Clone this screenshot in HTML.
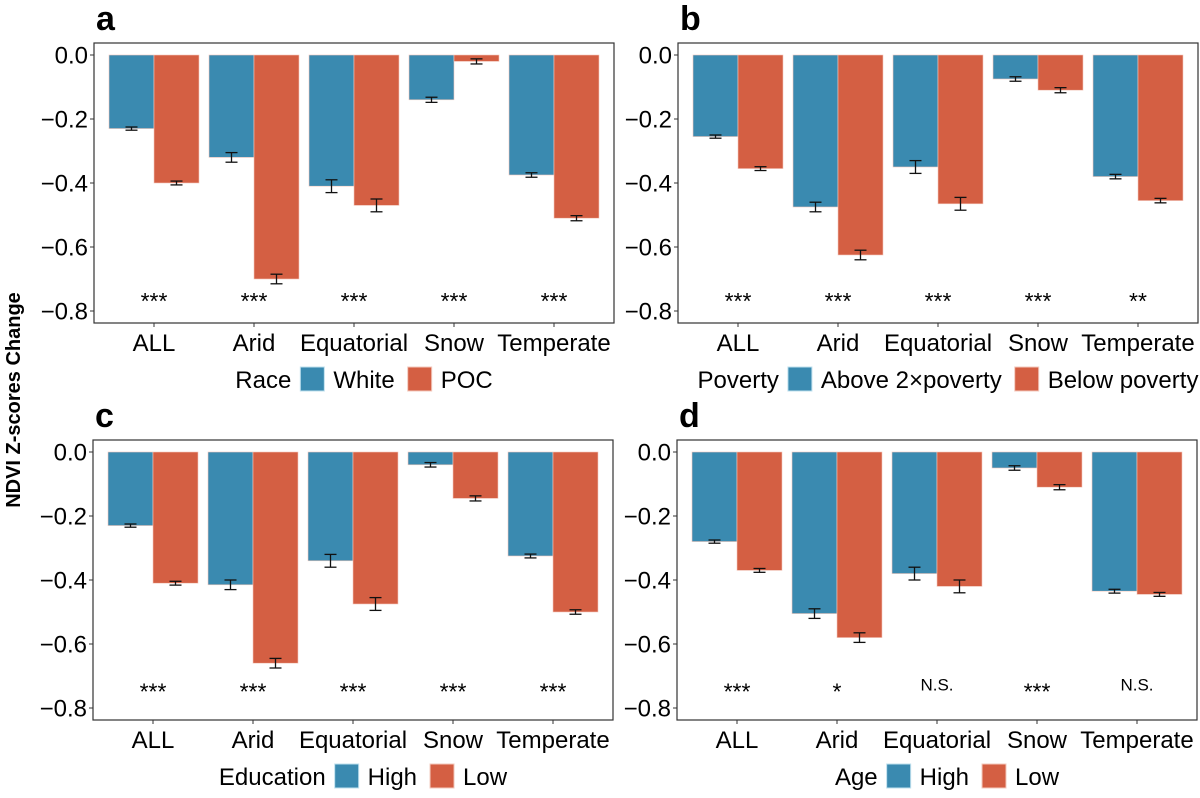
<!DOCTYPE html>
<html><head><meta charset="utf-8"><style>
html,body{margin:0;padding:0;background:#fff;}
svg{display:block;font-family:"Liberation Sans",Arial,sans-serif;}
</style></head><body>
<svg id="chart" width="1200" height="798" viewBox="0 0 1200 798" xmlns="http://www.w3.org/2000/svg">
<text x="0" y="0" transform="translate(20,400) rotate(-90)" text-anchor="middle" font-size="20" font-weight="bold">NDVI Z-scores Change</text>
</svg>
<script>
const categories=["ALL","Arid","Equatorial","Snow","Temperate"];
const yTicks=[0,-0.2,-0.4,-0.6,-0.8];
const yTickLabels=["0.0","\u22120.2","\u22120.4","\u22120.6","\u22120.8"];
const aBlue=[-0.23,-0.32,-0.41,-0.14,-0.375];
const aBlueErr=[0.005,0.015,0.02,0.008,0.007];
const aRed=[-0.40,-0.70,-0.47,-0.02,-0.51];
const aRedErr=[0.006,0.015,0.02,0.008,0.008];
const aSig=["***","***","***","***","***"];
const bBlue=[-0.255,-0.475,-0.35,-0.075,-0.38];
const bBlueErr=[0.005,0.015,0.02,0.007,0.007];
const bRed=[-0.355,-0.625,-0.465,-0.11,-0.455];
const bRedErr=[0.006,0.015,0.02,0.008,0.007];
const bSig=["***","***","***","***","**"];
const cBlue=[-0.23,-0.415,-0.34,-0.04,-0.325];
const cBlueErr=[0.005,0.015,0.02,0.007,0.006];
const cRed=[-0.41,-0.66,-0.475,-0.145,-0.50];
const cRedErr=[0.006,0.015,0.02,0.008,0.007];
const cSig=["***","***","***","***","***"];
const dBlue=[-0.28,-0.505,-0.38,-0.05,-0.435];
const dBlueErr=[0.005,0.015,0.02,0.007,0.006];
const dRed=[-0.37,-0.58,-0.42,-0.11,-0.445];
const dRedErr=[0.006,0.015,0.02,0.008,0.006];
const dSig=["***","*","N.S.","***","N.S."];
const legendTitles=["Race","Poverty","Education","Age"];
const legendBlue=["White","Above 2\u00d7poverty","High","High"];
const legendRed=["POC","Below poverty","Low","Low"];

const NS="http://www.w3.org/2000/svg";
const svg=document.getElementById('chart');
function mk(tag,attrs,parent,text){const e=document.createElementNS(NS,tag);for(const k in attrs)e.setAttribute(k,attrs[k]);if(text!==undefined)e.textContent=text;(parent||svg).appendChild(e);return e;}
const BLUE="#3a8ab0",RED="#d45f43";
const panels=[
 {id:"a",x0:94,y0:43,blue:aBlue,be:aBlueErr,red:aRed,re:aRedErr,sig:aSig,sigY:-0.765,L:0},
 {id:"b",x0:678,y0:43,blue:bBlue,be:bBlueErr,red:bRed,re:bRedErr,sig:bSig,sigY:-0.765,L:1},
 {id:"c",x0:93,y0:440,blue:cBlue,be:cBlueErr,red:cRed,re:cRedErr,sig:cSig,sigY:-0.745,L:2},
 {id:"d",x0:677,y0:440,blue:dBlue,be:dBlueErr,red:dRed,re:dRedErr,sig:dSig,sigY:-0.745,L:3}];
panels.forEach(p=>{
 const g=mk('g',{},svg);
 
 
 const W=520,H=280;
 const yS=v=>p.y0+12+(-v)*320;
 const xS=i=>p.x0+60+i*100;
 const lbl=mk('text',{x:p.x0+2,y:p.y0-13,'font-size':34,'font-weight':'bold'},g,p.id);
 
 
 yTicks.forEach((t,i)=>{
  const y=yS(t);
  mk('line',{x1:p.x0-4,x2:p.x0,y1:y,y2:y,stroke:'#333','stroke-width':1},g);
  const tl=mk('text',{x:p.x0-6,y:y+8.5,'font-size':24,'text-anchor':'end'},g,yTickLabels[i]);
  
  
 });
 categories.forEach((c,i)=>{
  const cx=xS(i);
  mk('line',{x1:cx,x2:cx,y1:p.y0+H,y2:p.y0+H+4,stroke:'#333','stroke-width':1},g);
  const xl=mk('text',{x:cx,y:p.y0+H+28,'font-size':24,'text-anchor':'middle'},g,c);
  
  
  [[p.blue,p.be,BLUE,-45],[p.red,p.re,RED,0]].forEach(([vals,errs,col,off],k)=>{
   const v=vals[i];
   const b=mk('rect',{x:cx+off,y:yS(0),width:45,height:yS(v)-yS(0),fill:col,stroke:'#f3c9bd','stroke-width':0.6},g);
   
   
   const ex=cx+off+22.5,e=errs[i];
   const y1=yS(v+e),y2=yS(v-e);
   mk('line',{x1:ex,x2:ex,y1:y1,y2:y2,stroke:'#111','stroke-width':1.3},g);
   mk('line',{x1:ex-6,x2:ex+6,y1:y1,y2:y1,stroke:'#111','stroke-width':1.3},g);
   mk('line',{x1:ex-6,x2:ex+6,y1:y2,y2:y2,stroke:'#111','stroke-width':1.3},g);
  });
  const s=mk('text',{x:cx,y:yS(p.sigY)+(p.sig[i]==="N.S."?0:9),'font-size':p.sig[i]==="N.S."?17:23,'text-anchor':'middle'},g,p.sig[i]);
  
  
 });
 const fr=mk('rect',{x:p.x0,y:p.y0,width:W,height:H,fill:'none',stroke:'#333','stroke-width':1.2},g);
 
 
 const lg=mk('g',{},g);
 
 
 const ly=p.y0+H+65;
 const cxm=p.x0+W/2;
 const t=legendTitles[p.L],b=legendBlue[p.L],r=legendRed[p.L];
 const items=[];
 let x=0;
 const tt=mk('text',{x:0,y:ly,'font-size':24},lg,t);
 
 
 const w1=tt.getComputedTextLength();
 const r1=mk('rect',{y:ly-21,width:24,height:24,fill:BLUE,stroke:'#bfe0ee','stroke-width':1},lg);
 const tb=mk('text',{x:0,y:ly,'font-size':24},lg,b);
 
 
 const w2=tb.getComputedTextLength();
 const r2=mk('rect',{y:ly-21,width:24,height:24,fill:RED,stroke:'#f3c9bd','stroke-width':1},lg);
 const tr=mk('text',{x:0,y:ly,'font-size':24},lg,r);
 
 
 const w3=tr.getComputedTextLength();
 const total=w1+9+24+9+w2+13+24+9+w3;
 x=cxm-total/2+10;
 tt.setAttribute('x',x); x+=w1+9;
 r1.setAttribute('x',x); x+=33;
 tb.setAttribute('x',x); x+=w2+13;
 r2.setAttribute('x',x); x+=33;
 tr.setAttribute('x',x);
});
</script>
</body></html>
